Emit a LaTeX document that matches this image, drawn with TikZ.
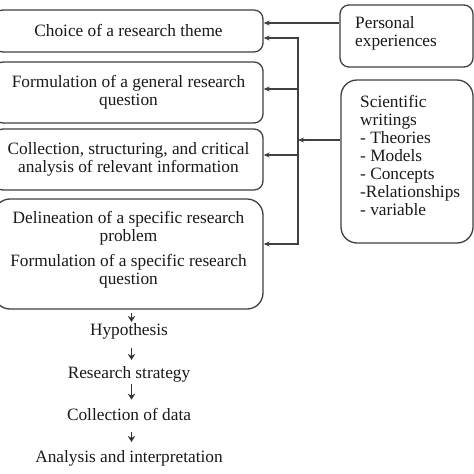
\documentclass[tikz,border=0pt]{standalone}
\usepackage{fontspec}
\setmainfont{Liberation Serif}
\usetikzlibrary{arrows.meta,calc}
\begin{document}
\begin{tikzpicture}[x=1pt,y=-1pt,
  box/.style={draw=black!75, line width=1.3pt, rounded corners=9pt, inner sep=0pt},
  bigbox/.style={box, rounded corners=16pt},
  lbl/.style={inner sep=1pt, text=black!90, font=\fontsize{17.3}{18}\selectfont, align=center},
  lbll/.style={lbl, align=left},
  conn/.style={draw=black!75, line width=1.3pt},
  arr/.style={conn, -{Stealth[length=6pt,width=5pt]}},
  sarr/.style={draw=black!80, line width=1pt, -{Stealth[length=6pt,width=7.5pt,inset=2pt]}},
  ]
\useasboundingbox (0,0) rectangle (474,474);
\fill[white] (0,0) rectangle (474,474);
% left boxes
\node[box, minimum width=269pt, minimum height=42pt] (b1) at (128.5,31) {};
\node[box, minimum width=269pt, minimum height=61pt] (b2) at (128.5,92.5) {};
\node[box, minimum width=269pt, minimum height=61pt] (b3) at (128.5,159.5) {};
\node[bigbox, minimum width=269pt, minimum height=110pt] (b4) at (128.5,254) {};
\node[lbl] (t1) at (128.5,30.5) {Choice of a research theme};
\node[lbl] (t2) at (128.5,92) {Formulation of a general research\\question};
\node[lbl] (t3) at (128.5,159) {Collection, structuring, and critical\\analysis of relevant information};
\node[lbl] (t4) at (128.5,250) {Delineation of a specific research\\problem\\[7pt]Formulation of a specific research\\question};
% right boxes
\node[box, minimum width=133pt, minimum height=62pt] (pers) at (406.5,36) {};
\node[bigbox, minimum width=132pt, minimum height=163pt] (sci) at (407,161.5) {};
\node[lbll, anchor=west] (tp) at (354,33) {Personal\\experiences};
\node[lbll, anchor=west] (ts) at (359,155.5) {Scientific\\writings\\- Theories\\- Models\\- Concepts\\-Relationships\\- variable};
% bottom chain
\node[lbl] (hyp) at (129,331) {Hypothesis};
\node[lbl] (rs) at (129,374.5) {Research strategy};
\node[lbl] (cd) at (129,414.5) {Collection of data};
\node[lbl] (ai) at (129,458.5) {Analysis and interpretation};
% trunk coordinates
\coordinate (k1) at (298,38);
\coordinate (k2) at (298,89);
\coordinate (k3) at (298,155);
\coordinate (k4) at (298,244);
\coordinate (ks) at (298,140);
\coordinate (kp) at (0,23);
\draw[arr] (pers.west |- kp) -- (b1.east |- kp);
\draw[arr] (k4) -- (k1) -- (b1.east |- k1);
\draw[arr] (k2) -- (b2.east |- k2);
\draw[arr] (k3) -- (b3.east |- k3);
\draw[arr] (k1) -- (k4) -- (b4.east |- k4);
\draw[arr] (sci.west |- ks) -- (ks);
% vertical chain arrows
\draw[sarr, shorten <=3pt] ([xshift=2.5pt]hyp.north |- b4.south) -- ([xshift=2.5pt]hyp.north);
\draw[sarr, shorten <=8pt, shorten >=5.5pt] ([xshift=2.5pt]hyp.south) -- ([xshift=2.5pt]rs.north);
\draw[sarr, shorten <=0.5pt, shorten >=7.5pt] ([xshift=2.5pt]rs.south) -- ([xshift=2.5pt]cd.north);
\draw[sarr, shorten <=10.5pt, shorten >=7.5pt] ([xshift=2.5pt]cd.south) -- ([xshift=2.5pt]ai.north);
\end{tikzpicture}
\end{document}
